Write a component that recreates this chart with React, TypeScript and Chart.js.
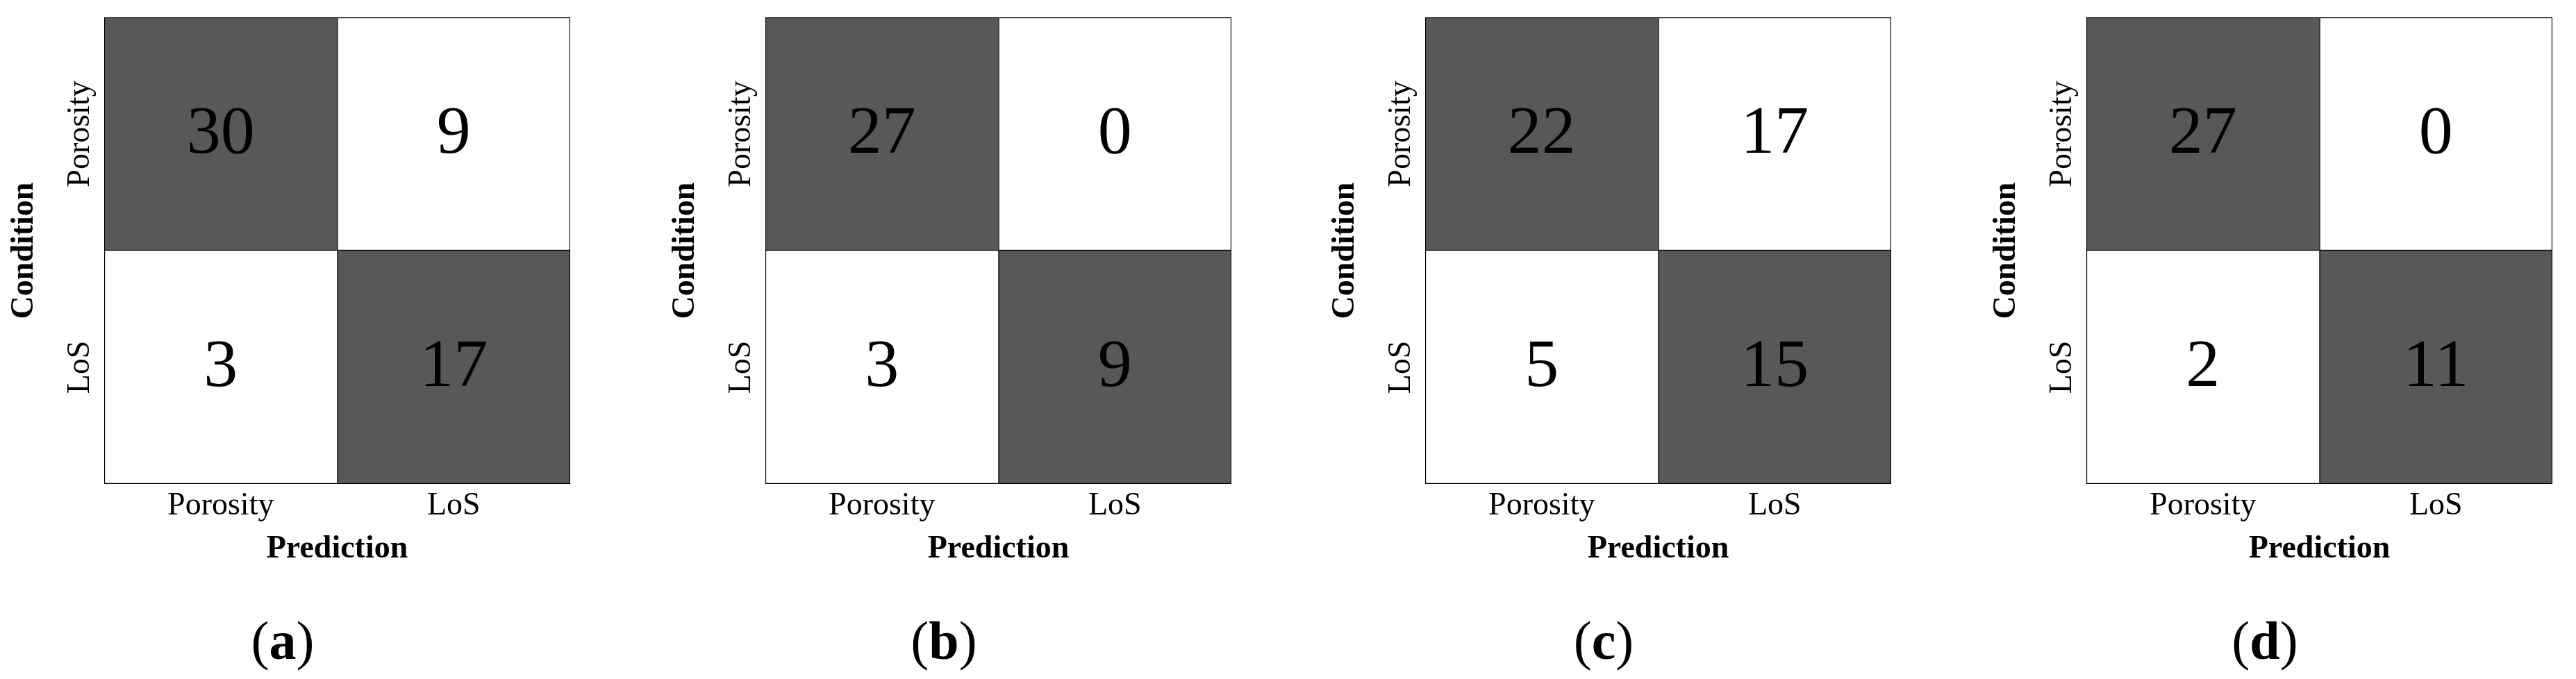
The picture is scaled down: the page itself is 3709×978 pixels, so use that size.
import React, { useEffect, useRef } from 'react';
import { Chart, registerables } from 'chart.js';

Chart.register(...registerables);

// ---- data ----
const predictionLabels = ['Porosity', 'LoS'];
const conditionLabels = ['Porosity', 'LoS'];
const panelLetters = ['a', 'b', 'c', 'd'];

const porosityRowA = [30, 9];
const losRowA = [3, 17];
const porosityRowB = [27, 0];
const losRowB = [3, 9];
const porosityRowC = [22, 17];
const losRowC = [5, 15];
const porosityRowD = [27, 0];
const losRowD = [2, 11];

const panelRows = [
  [porosityRowA, losRowA],
  [porosityRowB, losRowB],
  [porosityRowC, losRowC],
  [porosityRowD, losRowD],
];

// ---- styles / layout ----
const SERIF = '"Liberation Serif", "Times New Roman", Times, serif';
const DARK = 'rgb(89, 88, 86)';
const LINE = 1.5;
const CANVAS_W = 855;
const CANVAS_H = 978;
const PANEL_OFFSETS = [0, 952, 1902, 2854];
const VALUE_FONT = 98;
const AXIS_FONT = 46;
const LETTER_FONT = 78;

const valuePlugin = {
  id: 'cellValues',
  afterDatasetsDraw(chart: any) {
    const ctx = chart.ctx;
    ctx.save();
    ctx.font = `${VALUE_FONT}px ${SERIF}`;
    ctx.fillStyle = '#000';
    ctx.textAlign = 'center';
    ctx.textBaseline = 'alphabetic';
    chart.data.datasets.forEach((ds: any, di: number) => {
      const meta = chart.getDatasetMeta(di);
      meta.data.forEach((el: any, ci: number) => {
        const p = el.getProps(['x', 'y', 'base'], true);
        const cy = (p.y + p.base) / 2;
        ctx.fillText(String(ds.counts[ci]), p.x, cy + VALUE_FONT * 0.28);
      });
    });
    ctx.restore();
  },
};

const letterPlugin = {
  id: 'panelLetter',
  afterDraw(chart: any) {
    const letter = chart.options.plugins.panelLetter?.letter;
    if (!letter) return;
    const ctx = chart.ctx;
    ctx.save();
    const reg = `${LETTER_FONT}px ${SERIF}`;
    const bold = `bold ${LETTER_FONT}px ${SERIF}`;
    ctx.font = reg;
    const wOpen = ctx.measureText('(').width;
    const wClose = ctx.measureText(')').width;
    ctx.font = bold;
    const wLetter = ctx.measureText(letter).width;
    const total = wOpen + wLetter + wClose;
    const cx = chart.chartArea.right / 2 - 3.5;
    const baseY = chart.height - 29;
    let x = cx - total / 2;
    ctx.fillStyle = '#000';
    ctx.textAlign = 'left';
    ctx.textBaseline = 'alphabetic';
    ctx.font = reg;
    ctx.fillText('(', x, baseY);
    x += wOpen;
    ctx.font = bold;
    ctx.fillText(letter, x, baseY);
    x += wLetter;
    ctx.font = reg;
    ctx.fillText(')', x, baseY);
    ctx.restore();
  },
};

function Panel({ rows, letter, left }: { rows: number[][]; letter: string; left: number }) {
  const ref = useRef<HTMLCanvasElement>(null);

  useEffect(() => {
    if (!ref.current) return;
    const n = conditionLabels.length;
    const datasets = rows.map((counts, r) => ({
      label: conditionLabels[r],
      data: predictionLabels.map(() => [n - 1 - r, n - r]),
      counts,
      backgroundColor: (c: any) => (c.dataIndex === r ? DARK : '#ffffff'),
      borderColor: '#000000',
      borderWidth: (c: any) => ({
        left: LINE,
        right: c.dataIndex === 0 ? 0 : LINE,
        top: r === n - 1 ? 0 : LINE,
        bottom: LINE,
      }),
      borderSkipped: false,
      barPercentage: 1,
      categoryPercentage: 1,
      grouped: false,
    }));

    const chart = new Chart(ref.current, {
      type: 'bar',
      data: { labels: predictionLabels, datasets: datasets as any },
      options: {
        animation: false,
        responsive: false,
        maintainAspectRatio: false,
        events: [],
        layout: { padding: { left: 0, top: 25, right: CANVAS_W - 821, bottom: 151 } },
        plugins: {
          legend: { display: false },
          tooltip: { enabled: false },
          title: { display: false },
          panelLetter: { letter },
        } as any,
        scales: {
          x: {
            type: 'category',
            grid: { display: false, drawTicks: false },
            border: { display: false },
            ticks: {
              font: { family: SERIF, size: AXIS_FONT },
              color: '#000',
              padding: 4.4,
              minRotation: 0,
              maxRotation: 0,
              autoSkip: false,
            },
            title: {
              display: true,
              text: 'Prediction',
              color: '#000',
              font: { family: SERIF, size: AXIS_FONT, weight: 'bold' },
              padding: { top: 0, bottom: 8.4 },
            },
            afterFit: (s: any) => {
              s.height = 130;
            },
          },
          y: {
            type: 'linear',
            min: 0,
            max: n,
            grid: { display: false, drawTicks: false },
            border: { display: false },
            afterBuildTicks: (s: any) => {
              s.ticks = conditionLabels.map((_, i) => ({ value: n - 1 - i + 0.5 }));
            },
            ticks: {
              autoSkip: false,
              font: { family: SERIF, size: AXIS_FONT },
              color: '#000',
              padding: -43,
              crossAlign: 'center',
              minRotation: 90,
              maxRotation: 90,
              callback: (v: any) => conditionLabels[n - 1 - Math.floor(Number(v))],
            },
            title: {
              display: true,
              text: 'Condition',
              color: '#000',
              font: { family: SERIF, size: AXIS_FONT, weight: 'bold' },
              padding: { top: 8, bottom: 0 },
            },
            afterFit: (s: any) => {
              s.width = 150;
            },
          },
        } as any,
      },
      plugins: [valuePlugin, letterPlugin],
    });

    return () => chart.destroy();
  }, [rows, letter]);

  return (
    <canvas
      ref={ref}
      width={CANVAS_W}
      height={CANVAS_H}
      style={{ position: 'absolute', left, top: 0, width: CANVAS_W, height: CANVAS_H }}
    />
  );
}

export default function App() {
  useEffect(() => {
    document.body.style.margin = '0';
    document.body.style.background = '#ffffff';
  }, []);
  return (
    <div
      style={{
        position: 'relative',
        width: 3709,
        height: 978,
        background: '#ffffff',
        overflow: 'hidden',
      }}
    >
      {panelRows.map((rows, i) => (
        <Panel key={panelLetters[i]} rows={rows} letter={panelLetters[i]} left={PANEL_OFFSETS[i]} />
      ))}
    </div>
  );
}
